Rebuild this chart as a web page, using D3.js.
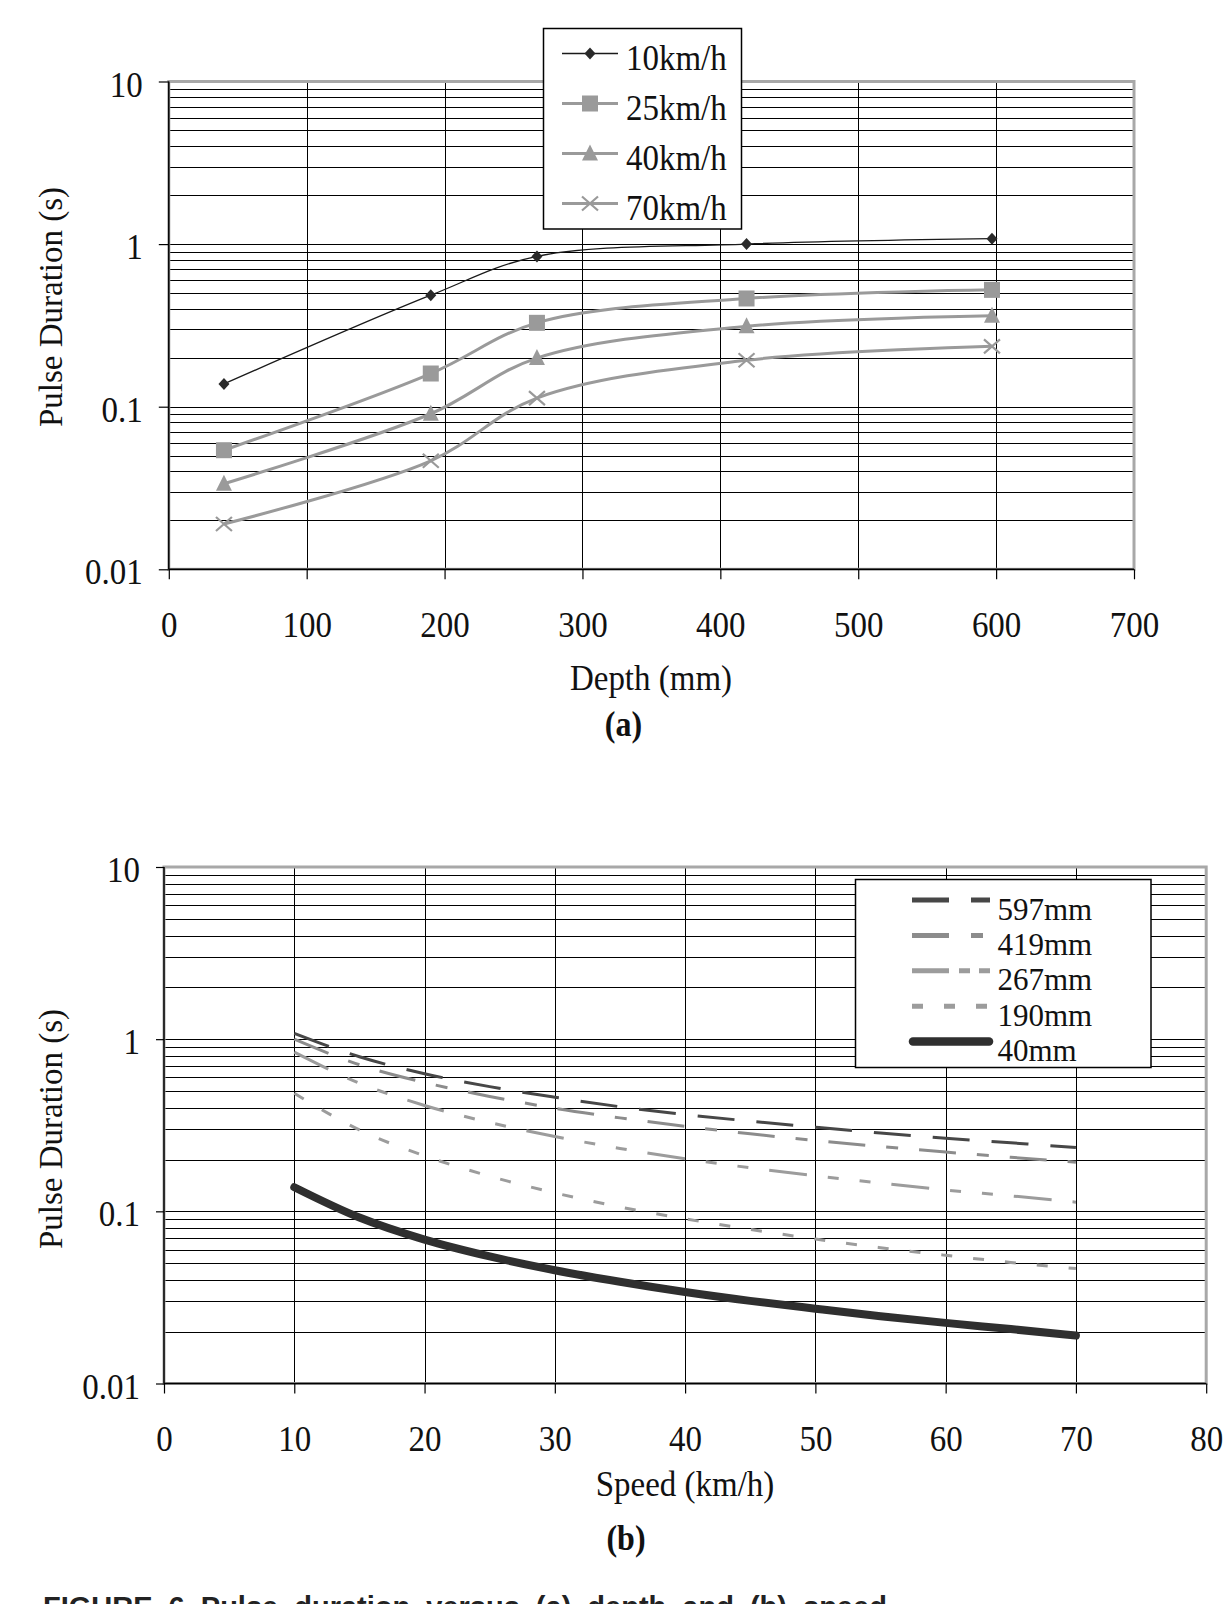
<!DOCTYPE html>
<html>
<head>
<meta charset="utf-8">
<script src="https://cdn.jsdelivr.net/npm/d3@7"></script>
<style>
body { margin: 0; background: #fff; }
svg text { font-family: "Liberation Serif", "Times New Roman", serif; fill: #111; }
</style>
</head>
<body>
<svg id="fig" width="1224" height="1604"></svg>
<script>
// ---- chart (a): pulse duration vs depth ----
var depths = [40, 190, 267, 419, 597];
var speedNames = ["10km/h", "25km/h", "40km/h", "70km/h"];
var dur10kmh = [0.138, 0.485, 0.84, 1.0, 1.08];
var dur25kmh = [0.054, 0.16, 0.328, 0.463, 0.523];
var dur40kmh = [0.0336, 0.0905, 0.199, 0.312, 0.362];
var dur70kmh = [0.019, 0.0465, 0.113, 0.193, 0.235];

// ---- chart (b): pulse duration vs speed ----
var speeds = [10, 15, 20, 25, 30, 35, 40, 45, 50, 55, 60, 65, 70];
var depthNames = ["597mm", "419mm", "267mm", "190mm", "40mm"];
var dur597 = [1.08, 0.79, 0.63, 0.53, 0.46, 0.405, 0.365, 0.334, 0.308, 0.285, 0.266, 0.25, 0.235];
var dur419 = [1.0, 0.71, 0.56, 0.465, 0.397, 0.349, 0.312, 0.282, 0.258, 0.238, 0.221, 0.206, 0.193];
var dur267 = [0.84, 0.555, 0.412, 0.328, 0.272, 0.232, 0.202, 0.179, 0.161, 0.146, 0.133, 0.123, 0.113];
var dur190 = [0.485, 0.297, 0.21, 0.16, 0.128, 0.106, 0.0905, 0.0785, 0.069, 0.0615, 0.0555, 0.0505, 0.0465];
var dur40 = [0.138, 0.092, 0.0685, 0.0547, 0.0455, 0.039, 0.034, 0.0302, 0.0272, 0.0246, 0.0225, 0.0207, 0.019];

var yTicks = [0.01, 0.1, 1, 10];
var depthTicks = [0, 100, 200, 300, 400, 500, 600, 700];
var speedTicks = [0, 10, 20, 30, 40, 50, 60, 70, 80];

var svg = d3.select("#fig");
var fmt = d3.format("~g");
var SY = 1.1; // the scanned lettering is a bit taller than it is wide

// keep x, stretch glyphs vertically around the baseline
function tall(sel) {
	sel.each(function() {
		var t = d3.select(this);
		var y = +t.attr("y") || 0;
		t.attr("y", y / SY).attr("transform", "scale(1," + SY + ")");
	});
	return sel;
}

// log minor gridlines 0.02 ... 10
function logGrid(g, y, x0, x1) {
	var vals = [];
	[0.01, 0.1, 1].forEach(function(dec) {
		for (var k = 2; k <= 10; k++) vals.push(dec * k);
	});
	g.selectAll("line.hg")
		.data(vals)
		.enter()
		.append("line")
		.attr("class", "hg")
		.attr("x1", x0)
		.attr("x2", x1)
		.attr("y1", function(d) { return Math.round(y(d)) + 0.5; })
		.attr("y2", function(d) { return Math.round(y(d)) + 0.5; })
		.attr("stroke", "#000")
		.attr("stroke-width", 1)
		.attr("shape-rendering", "crispEdges");
}

function vGrid(g, x, vals, y0, y1) {
	g.selectAll("line.vg")
		.data(vals)
		.enter()
		.append("line")
		.attr("class", "vg")
		.attr("x1", function(d) { return Math.round(x(d)) + 0.5; })
		.attr("x2", function(d) { return Math.round(x(d)) + 0.5; })
		.attr("y1", y0)
		.attr("y2", y1)
		.attr("stroke", "#000")
		.attr("stroke-width", 1)
		.attr("shape-rendering", "crispEdges");
}

function frame(g, x0, x1, y0, y1) {
	g.append("rect")
		.attr("x", x0).attr("y", y1)
		.attr("width", x1 - x0).attr("height", y0 - y1)
		.attr("fill", "none")
		.attr("stroke", "#a8a8a8")
		.attr("stroke-width", 3);
	g.append("line")
		.attr("x1", x0).attr("x2", x1).attr("y1", y0).attr("y2", y0)
		.attr("stroke", "#000").attr("stroke-width", 1.5);
	g.append("line")
		.attr("x1", x0).attr("x2", x0).attr("y1", y0).attr("y2", y1)
		.attr("stroke", "#000").attr("stroke-width", 1.5);
}

function axes(g, x, y, xTicks, leftTick, leftPad) {
	var y0 = y.range()[0];
	var x0 = x.range()[0];
	var ax = g.append("g")
		.attr("transform", "translate(0," + y0 + ")")
		.call(d3.axisBottom(x).tickValues(xTicks).tickSizeInner(10).tickSizeOuter(0));
	var ay = g.append("g")
		.attr("transform", "translate(" + x0 + ",0)")
		.call(d3.axisLeft(y).tickValues(yTicks).tickFormat(fmt).tickSizeInner(leftTick).tickSizeOuter(0).tickPadding(leftPad));
	[ax, ay].forEach(function(a) {
		a.select(".domain").remove();
		a.selectAll("line").attr("stroke", "#000").attr("stroke-width", 1.2);
		a.selectAll("text")
			.attr("font-size", 33)
			.attr("font-family", "Liberation Serif, serif")
			.attr("fill", "#111")
			.attr("dy", null);
	});
	tall(ax.selectAll("text").attr("y", 68));
	tall(ay.selectAll("text").attr("y", 14.5));
}

function yTitle(y) {
	svg.append("text")
		.attr("transform", "translate(62," + y + ") rotate(-90)")
		.attr("text-anchor", "middle")
		.attr("font-size", 33)
		.text("Pulse Duration (s)");
}

function label(x, y, txt, size, bold) {
	var t = svg.append("text")
		.attr("x", x).attr("y", y)
		.attr("text-anchor", "middle")
		.attr("font-size", size)
		.text(txt);
	if (bold) t.attr("font-weight", "bold");
	tall(t);
}

// ================= chart (a) =================
var xA = d3.scaleLinear().domain([0, 700]).range([168.8, 1134]);
var yA = d3.scaleLog().domain([0.01, 10]).range([569.3, 81.5]);
var gA = svg.append("g");

logGrid(gA, yA, xA(0), xA(700));
vGrid(gA, xA, depthTicks.slice(1, -1), yA(10), yA(0.01));
frame(gA, xA(0), xA(700), yA(0.01), yA(10));
axes(gA, xA, yA, depthTicks, 10, 16);

var seriesA = [dur10kmh, dur25kmh, dur40kmh, dur70kmh];
var styleA = [
	{ stroke: "#1a1a1a", width: 1.3, mark: "diamond", fill: "#2a2a2a" },
	{ stroke: "#9a9a9a", width: 3, mark: "square", fill: "#9a9a9a" },
	{ stroke: "#9a9a9a", width: 3, mark: "triangle", fill: "#9a9a9a" },
	{ stroke: "#9a9a9a", width: 3, mark: "cross", fill: "none" }
];

function marker(g, kind, cx, cy, st) {
	if (kind === "diamond") {
		g.append("path")
			.attr("d", "M" + cx + "," + (cy - 6) + "L" + (cx + 5.5) + "," + cy + "L" + cx + "," + (cy + 6) + "L" + (cx - 5.5) + "," + cy + "Z")
			.attr("fill", st.fill);
	} else if (kind === "square") {
		g.append("rect")
			.attr("x", cx - 8).attr("y", cy - 8)
			.attr("width", 16).attr("height", 16)
			.attr("fill", st.fill);
	} else if (kind === "triangle") {
		g.append("path")
			.attr("d", "M" + cx + "," + (cy - 9) + "L" + (cx + 8) + "," + (cy + 7) + "L" + (cx - 8) + "," + (cy + 7) + "Z")
			.attr("fill", st.fill);
	} else {
		g.append("path")
			.attr("d", "M" + (cx - 8) + "," + (cy - 7) + "L" + (cx + 8) + "," + (cy + 7) + "M" + (cx + 8) + "," + (cy - 7) + "L" + (cx - 8) + "," + (cy + 7))
			.attr("stroke", "#999")
			.attr("stroke-width", 2.2)
			.attr("fill", "none");
	}
}

var lineA = d3.line()
	.x(function(d, i) { return xA(depths[i]); })
	.y(function(d) { return yA(d); })
	.curve(d3.curveCatmullRom.alpha(0.5));

seriesA.slice().reverse().forEach(function(vals, ri) {
	var st = styleA[seriesA.length - 1 - ri];
	gA.append("path")
		.attr("d", lineA(vals))
		.attr("fill", "none")
		.attr("stroke", st.stroke)
		.attr("stroke-width", st.width);
	vals.forEach(function(v, i) {
		marker(gA, st.mark, xA(depths[i]), yA(v), st);
	});
});

// legend (a)
var legA = svg.append("g");
legA.append("rect")
	.attr("x", 543.5).attr("y", 28.5)
	.attr("width", 198).attr("height", 200.5)
	.attr("fill", "#fff").attr("stroke", "#000").attr("stroke-width", 1.5);
speedNames.forEach(function(name, i) {
	var ry = 53.5 + i * 50;
	var st = styleA[i];
	legA.append("line")
		.attr("x1", 562).attr("x2", 618).attr("y1", ry).attr("y2", ry)
		.attr("stroke", st.stroke).attr("stroke-width", st.width);
	marker(legA, st.mark, 590, ry, st);
	tall(legA.append("text")
		.attr("x", 626).attr("y", ry + 16.7)
		.attr("font-size", 33)
		.text(name));
});

yTitle(307);
label(651, 690, "Depth (mm)", 33, false);
label(623.5, 736.5, "(a)", 32, true);

// ================= chart (b) =================
var xB = d3.scaleLinear().domain([0, 80]).range([164, 1206.2]);
var yB = d3.scaleLog().domain([0.01, 10]).range([1383.5, 867]);
var gB = svg.append("g");

logGrid(gB, yB, xB(0), xB(80));
vGrid(gB, xB, speedTicks.slice(1, -1), yB(10), yB(0.01));
frame(gB, xB(0), xB(80), yB(0.01), yB(10));
axes(gB, xB, yB, speedTicks, 8, 16);

var seriesB = [dur597, dur419, dur267, dur190, dur40];
var styleB = [
	{ stroke: "#474747", width: 3, dash: "37,22", legDash: "37,22,19" },
	{ stroke: "#8c8c8c", width: 3, dash: "37,21,12,21", legDash: "37,22,12" },
	{ stroke: "#9c9c9c", width: 3, dash: "38,21,11,21,11,21", legDash: "37,10,11,9,11" },
	{ stroke: "#9c9c9c", width: 3, dash: "11,21", legDash: "11,21" },
	{ stroke: "#2f2f2f", width: 8, dash: null, legDash: null }
];

var lineB = d3.line()
	.x(function(d, i) { return xB(speeds[i]); })
	.y(function(d) { return yB(d); })
	.curve(d3.curveMonotoneX);

seriesB.forEach(function(vals, i) {
	var st = styleB[i];
	gB.append("path")
		.attr("d", lineB(vals))
		.attr("fill", "none")
		.attr("stroke", st.stroke)
		.attr("stroke-width", st.width)
		.attr("stroke-dasharray", st.dash)
		.attr("stroke-linecap", st.dash ? "butt" : "round");
});

// legend (b)
var legB = svg.append("g");
legB.append("rect")
	.attr("x", 855.5).attr("y", 879.5)
	.attr("width", 295.5).attr("height", 188)
	.attr("fill", "#fff").attr("stroke", "#000").attr("stroke-width", 1.5);
depthNames.forEach(function(name, i) {
	var ry = 900 + i * 35.4;
	var st = styleB[i];
	legB.append("line")
		.attr("x1", st.dash ? 912 : 913).attr("x2", st.dash ? 990 : 989)
		.attr("y1", ry).attr("y2", ry)
		.attr("stroke", st.stroke)
		.attr("stroke-width", st.dash ? 5 : 8.5)
		.attr("stroke-dasharray", st.legDash)
		.attr("stroke-linecap", st.dash ? "butt" : "round");
	legB.append("text")
		.attr("x", 997.5).attr("y", ry + 19.5)
		.attr("font-size", 31)
		.text(name);
});

yTitle(1129);
label(685, 1496.5, "Speed (km/h)", 33, false);
label(626, 1550, "(b)", 32, true);

// figure caption, cut off by the bottom edge as in the scan
svg.append("text")
	.attr("x", 43).attr("y", 1617)
	.attr("font-size", 29)
	.attr("font-weight", "bold")
	.attr("word-spacing", 8)
	.style("font-family", "Liberation Sans, Arial, sans-serif")
	.style("fill", "#222")
	.text("FIGURE 6   Pulse duration versus (a) depth and (b) speed.");
</script>
</body>
</html>
